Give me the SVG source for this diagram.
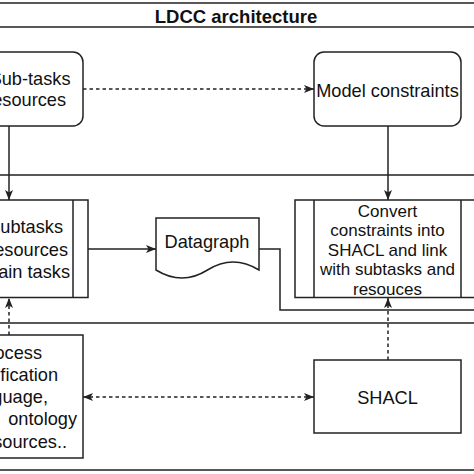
<svg xmlns="http://www.w3.org/2000/svg" width="474" height="474" viewBox="0 0 474 474">
<style>
.ln{stroke:#222;stroke-width:1.5;fill:none}
.box{fill:#fff;stroke:#222;stroke-width:1.5}
.t{font-family:"Liberation Sans",Arial,sans-serif;font-size:18.2px;fill:#111}
.s{font-size:17px}
.e{text-anchor:end}
.m{text-anchor:middle}
.dash{stroke-dasharray:3.5 3}
.title{font-family:"Liberation Sans",Arial,sans-serif;font-size:18.5px;font-weight:bold;fill:#111;text-anchor:middle}
</style>
<defs>
<marker id="arr" markerWidth="11" markerHeight="9" refX="10" refY="4" orient="auto-start-reverse" markerUnits="userSpaceOnUse">
<path d="M0,0 L10,4 L0,8 L2.5,4 z" fill="#222"/>
</marker>
</defs>
<rect x="0" y="0" width="474" height="474" fill="#fff"/>
<g id="frame">
<path class="ln" d="M-5,3 H480 M-5,27 H480 M-5,175 H480 M-5,323 H480 M-5,470 H480"/>
<text class="title" x="236" y="22.5">LDCC architecture</text>
</g>
<g id="connectors">
<path class="ln dash" d="M83,89 H314" marker-end="url(#arr)"/>
<path class="ln" d="M9,126 V200" marker-end="url(#arr)"/>
<path class="ln" d="M388,126 V200" marker-end="url(#arr)"/>
<path class="ln" d="M88,249 H156" marker-end="url(#arr)"/>
<path class="ln" d="M259,249 H280 V310 H480"/>
<path class="ln dash" d="M388,360 V298" marker-end="url(#arr)"/>
<path class="ln dash" d="M83,397 H314" marker-start="url(#arr)" marker-end="url(#arr)"/>
<path class="ln dash" d="M9,335 V298" marker-end="url(#arr)"/>
</g>
<g id="subtasks-resources">
<rect class="box" x="-60" y="52" width="143" height="74" rx="10"/>
<text class="t e" x="70.5" y="85">Sub-tasks</text>
<text class="t e" x="66" y="106">resources</text>
</g>
<g id="model-constraints">
<rect class="box" x="314" y="52" width="147" height="74" rx="10"/>
<text class="t m" x="387.5" y="96.5">Model constraints</text>
</g>
<g id="subtasks-process">
<rect class="box" x="-40" y="200" width="128" height="97.5"/>
<path class="ln" d="M73,200 V297.5"/>
<text class="t e" x="63" y="233">Subtasks</text>
<text class="t e" x="68" y="255.5">Resources</text>
<text class="t e" x="70" y="278">main tasks</text>
</g>
<g id="datagraph">
<path class="box" d="M156,218 H259 V270 Q233,254 207.5,270 Q182,286 156,270 Z"/>
<text class="t m" x="207" y="248">Datagraph</text>
</g>
<g id="convert">
<rect class="box" x="295" y="200" width="185" height="97.5"/>
<path class="ln" d="M314,200 V297.5 M461,200 V297.5"/>
<text class="t s m" x="387.5" y="216.7">Convert</text>
<text class="t s m" x="387.5" y="236">constraints into</text>
<text class="t s m" x="387.5" y="255.5">SHACL and link</text>
<text class="t s m" x="387.5" y="275">with subtasks and</text>
<text class="t s m" x="387.5" y="294.5">resouces</text>
</g>
<g id="process-spec">
<rect class="box" x="-60" y="335" width="143" height="123"/>
<text class="t e" x="42" y="358.5">Process</text>
<text class="t e" x="58" y="381">specification</text>
<text class="t e" x="48" y="403">language,</text>
<text class="t e" x="77" y="425">ontology</text>
<text class="t e" x="67" y="447.5">resources..</text>
</g>
<g id="shacl">
<rect class="box" x="314" y="360" width="147" height="73"/>
<text class="t m" x="387.5" y="403.5">SHACL</text>
</g>
</svg>
